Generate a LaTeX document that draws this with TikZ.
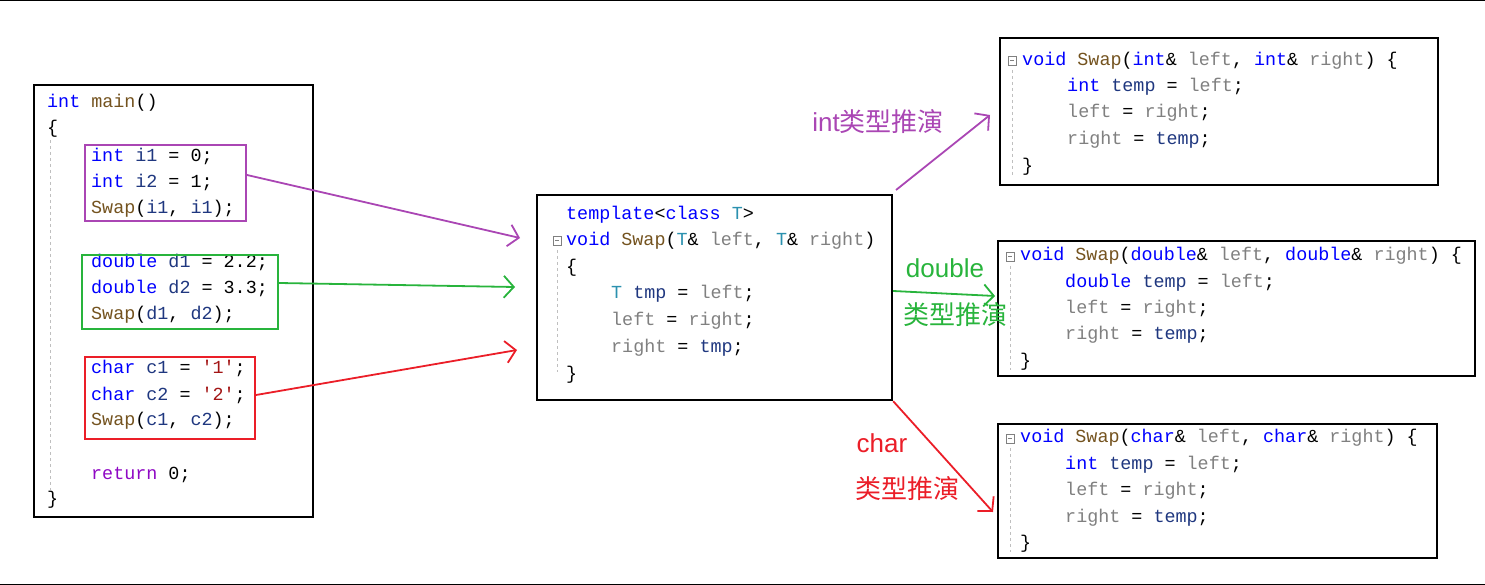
\documentclass[tikz,border=0pt]{standalone}
\usepackage{fontspec}
\setmonofont{Liberation Mono}
\newfontfamily\cjk{Noto Sans CJK SC}
\newfontfamily\lab{Liberation Sans}
\usetikzlibrary{arrows.meta}
\definecolor{kw}{RGB}{0,0,255}
\definecolor{fn}{RGB}{116,83,31}
\definecolor{vr}{RGB}{31,55,127}
\definecolor{pr}{RGB}{128,128,128}
\definecolor{st}{RGB}{163,21,21}
\definecolor{tp}{RGB}{43,145,175}
\definecolor{rt}{RGB}{143,8,196}
\definecolor{mpur}{RGB}{170,70,180}
\definecolor{mgrn}{RGB}{40,180,60}
\definecolor{mred}{RGB}{235,30,40}
\newcommand\cK[1]{\textcolor{kw}{#1}}
\newcommand\cF[1]{\textcolor{fn}{#1}}
\newcommand\cV[1]{\textcolor{vr}{#1}}
\newcommand\cP[1]{\textcolor{pr}{#1}}
\newcommand\cS[1]{\textcolor{st}{#1}}
\newcommand\cT[1]{\textcolor{tp}{#1}}
\newcommand\cR[1]{\textcolor{rt}{#1}}
\tikzset{
 code/.style={anchor=west,inner sep=0pt,font=\ttfamily\fontsize{18.4}{20}\selectfont},
 frame/.style={draw,line width=2.2pt},
 hl/.style={line width=2pt},
 guide/.style={draw=black!25,dashed,line width=0.6pt},
 arr/.style={line width=1.8pt,-{Straight Barb[length=10pt,width=22pt,line width=1.8pt]}},
 lbl/.style={inner sep=0pt,font=\fontsize{26}{28}\selectfont},
 fold/.style={draw=black!50,line width=0.6pt}
}
\begin{document}
\begin{tikzpicture}[x=1pt,y=-1pt]
\useasboundingbox (0,0) rectangle (1485,585);
\draw[line width=1pt] (0,0.5)--(1485,0.5) (0,584)--(1485,584);
% left box
\node[frame,minimum width=279pt,minimum height=432pt,anchor=north west] (L) at (33,84) {};
\draw[guide] (50,140)--(50,490);
\node[code] (l1) at (47,103) {\cK{int} \cF{main}()};
\node[code] at (47,129) {\{};
\node[code] at (91,156) {\cK{int} \cV{i1} = 0;};
\node[code] at (91,182) {\cK{int} \cV{i2} = 1;};
\node[code] at (91,209) {\cF{Swap}(\cV{i1}, \cV{i1});};
\node[code] at (91,262) {\cK{double} \cV{d1} = 2.2;};
\node[code] at (91,288) {\cK{double} \cV{d2} = 3.3;};
\node[code] at (91,315) {\cF{Swap}(\cV{d1}, \cV{d2});};
\node[code] at (91,368) {\cK{char} \cV{c1} = \cS{'1'};};
\node[code] at (91,395) {\cK{char} \cV{c2} = \cS{'2'};};
\node[code] at (91,421) {\cF{Swap}(\cV{c1}, \cV{c2});};
\node[code] at (91,475) {\cR{return} 0;};
\node[code] at (47,500) {\}};
\node[draw=mpur,hl,minimum width=161pt,minimum height=76pt,anchor=north west] (bp) at (84,144) {};
\node[draw=mgrn,hl,minimum width=196pt,minimum height=74pt,anchor=north west] (bg) at (81,254) {};
\node[draw=mred,hl,minimum width=170pt,minimum height=82pt,anchor=north west] (br) at (84,356) {};
% middle box
\node[frame,minimum width=355pt,minimum height=205pt,anchor=north west] (M) at (536,194) {};
\draw[fold] (553,236) rectangle (561,245); \draw[fold] (555,240.5)--(559,240.5);
\draw[guide] (557,250)--(557,372);
\node[code] at (566,215) {\cK{template}<\cK{class} \cT{T}>};
\node[code] at (566,241) {\cK{void} \cF{Swap}(\cT{T}\& \cP{left}, \cT{T}\& \cP{right})};
\node[code] at (566,268) {\{};
\node[code] at (611,294) {\cT{T} \cV{tmp} = \cP{left};};
\node[code] at (611,321) {\cP{left} = \cP{right};};
\node[code] at (611,348) {\cP{right} = \cV{tmp};};
\node[code] at (566,375) {\}};
% right boxes
\node[frame,minimum width=438pt,minimum height=147pt,anchor=north west] (R1) at (999,37) {};
\draw[fold] (1008,56) rectangle (1016,65); \draw[fold] (1010,60.5)--(1014,60.5);
\draw[guide] (1012,70)--(1012,175);
\node[code] at (1022,61) {\cK{void} \cF{Swap}(\cK{int}\& \cP{left}, \cK{int}\& \cP{right}) \{};
\node[code] at (1067,87) {\cK{int} \cV{temp} = \cP{left};};
\node[code] at (1067,113) {\cP{left} = \cP{right};};
\node[code] at (1067,140) {\cP{right} = \cV{temp};};
\node[code] at (1022,167) {\}};
\node[frame,minimum width=477pt,minimum height=135pt,anchor=north west] (R2) at (997,240) {};
\draw[fold] (1006,252) rectangle (1014,261); \draw[fold] (1008,256.5)--(1012,256.5);
\draw[guide] (1010,266)--(1010,370);
\node[code] at (1020,256) {\cK{void} \cF{Swap}(\cK{double}\& \cP{left}, \cK{double}\& \cP{right}) \{};
\node[code] at (1065,283) {\cK{double} \cV{temp} = \cP{left};};
\node[code] at (1065,309) {\cP{left} = \cP{right};};
\node[code] at (1065,335) {\cP{right} = \cV{temp};};
\node[code] at (1020,362) {\}};
\node[frame,minimum width=439pt,minimum height=134pt,anchor=north west] (R3) at (997,423) {};
\draw[fold] (1006,434) rectangle (1014,443); \draw[fold] (1008,438.5)--(1012,438.5);
\draw[guide] (1010,448)--(1010,552);
\node[code] at (1020,438) {\cK{void} \cF{Swap}(\cK{char}\& \cP{left}, \cK{char}\& \cP{right}) \{};
\node[code] at (1065,465) {\cK{int} \cV{temp} = \cP{left};};
\node[code] at (1065,491) {\cP{left} = \cP{right};};
\node[code] at (1065,518) {\cP{right} = \cV{temp};};
\node[code] at (1020,544) {\}};
% arrows
\coordinate (pa) at (520,238); \coordinate (ga) at (515,287); \coordinate (ra) at (517,350);
\draw[arr,mpur] (bp.east|-0,175) -- (pa);
\draw[arr,mgrn] (bg.east|-0,283) -- (ga);
\draw[arr,mred] (br.east|-0,395) -- (ra);
\coordinate (p1) at (990,115); \coordinate (g1) at (995,296); \coordinate (r1) at (993,512);
\draw[arr,mpur] (896,190) -- (p1);
\draw[arr,mgrn] (M.east|-0,291) -- (g1);
\draw[arr,mred] (M.south east) -- (r1);
% labels
\node[lbl,text=mpur] (t1) at (878,122) {\lab int\cjk 类型推演};
\node[lbl,text=mgrn] (t2) at (945,268) {\lab double};
\node[lbl,text=mgrn] (t3) at (955,315) {\cjk 类型推演};
\node[lbl,text=mred] (t4) at (882,443) {\lab char};
\node[lbl,text=mred] (t5) at (907,489) {\cjk 类型推演};
\end{tikzpicture}
\end{document}
